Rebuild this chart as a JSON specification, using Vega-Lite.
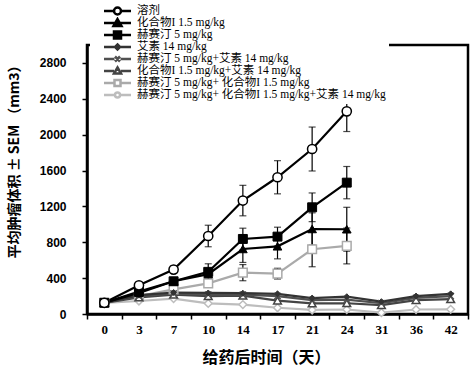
{
  "$schema": "https://vega.github.io/schema/vega-lite/v6.json",
  "width": 381,
  "height": 269,
  "autosize": {"type": "none"},
  "padding": {"left": 87, "top": 45, "right": 6, "bottom": 62},
  "background": "white",
  "datasets": {
    "tumor": [
      {"d": 0, "s": "赫赛汀 5 mg/kg+ 化合物I 1.5 mg/kg+艾素 14 mg/kg", "v": 125},
      {"d": 3, "s": "赫赛汀 5 mg/kg+ 化合物I 1.5 mg/kg+艾素 14 mg/kg", "v": 145},
      {"d": 7, "s": "赫赛汀 5 mg/kg+ 化合物I 1.5 mg/kg+艾素 14 mg/kg", "v": 172},
      {"d": 10, "s": "赫赛汀 5 mg/kg+ 化合物I 1.5 mg/kg+艾素 14 mg/kg", "v": 118},
      {"d": 14, "s": "赫赛汀 5 mg/kg+ 化合物I 1.5 mg/kg+艾素 14 mg/kg", "v": 105},
      {"d": 17, "s": "赫赛汀 5 mg/kg+ 化合物I 1.5 mg/kg+艾素 14 mg/kg", "v": 70},
      {"d": 21, "s": "赫赛汀 5 mg/kg+ 化合物I 1.5 mg/kg+艾素 14 mg/kg", "v": 45},
      {"d": 24, "s": "赫赛汀 5 mg/kg+ 化合物I 1.5 mg/kg+艾素 14 mg/kg", "v": 50},
      {"d": 31, "s": "赫赛汀 5 mg/kg+ 化合物I 1.5 mg/kg+艾素 14 mg/kg", "v": 15},
      {"d": 36, "s": "赫赛汀 5 mg/kg+ 化合物I 1.5 mg/kg+艾素 14 mg/kg", "v": 50},
      {"d": 42, "s": "赫赛汀 5 mg/kg+ 化合物I 1.5 mg/kg+艾素 14 mg/kg", "v": 52},

      {"d": 0, "s": "赫赛汀 5 mg/kg+ 化合物I 1.5 mg/kg", "v": 125, "e": 10},
      {"d": 3, "s": "赫赛汀 5 mg/kg+ 化合物I 1.5 mg/kg", "v": 200, "e": 15},
      {"d": 7, "s": "赫赛汀 5 mg/kg+ 化合物I 1.5 mg/kg", "v": 275, "e": 25},
      {"d": 10, "s": "赫赛汀 5 mg/kg+ 化合物I 1.5 mg/kg", "v": 342, "e": 40},
      {"d": 14, "s": "赫赛汀 5 mg/kg+ 化合物I 1.5 mg/kg", "v": 461, "e": 90},
      {"d": 17, "s": "赫赛汀 5 mg/kg+ 化合物I 1.5 mg/kg", "v": 450, "e": 60},
      {"d": 21, "s": "赫赛汀 5 mg/kg+ 化合物I 1.5 mg/kg", "v": 722, "e": 195},
      {"d": 24, "s": "赫赛汀 5 mg/kg+ 化合物I 1.5 mg/kg", "v": 759, "e": 200},

      {"d": 0, "s": "化合物I 1.5 mg/kg+艾素 14 mg/kg", "v": 125},
      {"d": 3, "s": "化合物I 1.5 mg/kg+艾素 14 mg/kg", "v": 185},
      {"d": 7, "s": "化合物I 1.5 mg/kg+艾素 14 mg/kg", "v": 215},
      {"d": 10, "s": "化合物I 1.5 mg/kg+艾素 14 mg/kg", "v": 200},
      {"d": 14, "s": "化合物I 1.5 mg/kg+艾素 14 mg/kg", "v": 205},
      {"d": 17, "s": "化合物I 1.5 mg/kg+艾素 14 mg/kg", "v": 150},
      {"d": 21, "s": "化合物I 1.5 mg/kg+艾素 14 mg/kg", "v": 118},
      {"d": 24, "s": "化合物I 1.5 mg/kg+艾素 14 mg/kg", "v": 120},
      {"d": 31, "s": "化合物I 1.5 mg/kg+艾素 14 mg/kg", "v": 100},
      {"d": 36, "s": "化合物I 1.5 mg/kg+艾素 14 mg/kg", "v": 155},
      {"d": 42, "s": "化合物I 1.5 mg/kg+艾素 14 mg/kg", "v": 165},

      {"d": 0, "s": "赫赛汀 5 mg/kg+艾素 14 mg/kg", "v": 125},
      {"d": 3, "s": "赫赛汀 5 mg/kg+艾素 14 mg/kg", "v": 200},
      {"d": 7, "s": "赫赛汀 5 mg/kg+艾素 14 mg/kg", "v": 228},
      {"d": 10, "s": "赫赛汀 5 mg/kg+艾素 14 mg/kg", "v": 215},
      {"d": 14, "s": "赫赛汀 5 mg/kg+艾素 14 mg/kg", "v": 215},
      {"d": 17, "s": "赫赛汀 5 mg/kg+艾素 14 mg/kg", "v": 200},
      {"d": 21, "s": "赫赛汀 5 mg/kg+艾素 14 mg/kg", "v": 155},
      {"d": 24, "s": "赫赛汀 5 mg/kg+艾素 14 mg/kg", "v": 160},
      {"d": 31, "s": "赫赛汀 5 mg/kg+艾素 14 mg/kg", "v": 120},
      {"d": 36, "s": "赫赛汀 5 mg/kg+艾素 14 mg/kg", "v": 180},
      {"d": 42, "s": "赫赛汀 5 mg/kg+艾素 14 mg/kg", "v": 200},

      {"d": 0, "s": "艾素 14 mg/kg", "v": 125},
      {"d": 3, "s": "艾素 14 mg/kg", "v": 210},
      {"d": 7, "s": "艾素 14 mg/kg", "v": 240},
      {"d": 10, "s": "艾素 14 mg/kg", "v": 235},
      {"d": 14, "s": "艾素 14 mg/kg", "v": 232},
      {"d": 17, "s": "艾素 14 mg/kg", "v": 225},
      {"d": 21, "s": "艾素 14 mg/kg", "v": 178},
      {"d": 24, "s": "艾素 14 mg/kg", "v": 193},
      {"d": 31, "s": "艾素 14 mg/kg", "v": 138},
      {"d": 36, "s": "艾素 14 mg/kg", "v": 200},
      {"d": 42, "s": "艾素 14 mg/kg", "v": 225},

      {"d": 0, "s": "赫赛汀 5 mg/kg", "v": 125, "e": 10},
      {"d": 3, "s": "赫赛汀 5 mg/kg", "v": 250, "e": 20},
      {"d": 7, "s": "赫赛汀 5 mg/kg", "v": 365, "e": 30},
      {"d": 10, "s": "赫赛汀 5 mg/kg", "v": 470, "e": 90},
      {"d": 14, "s": "赫赛汀 5 mg/kg", "v": 837, "e": 120},
      {"d": 17, "s": "赫赛汀 5 mg/kg", "v": 863, "e": 105},
      {"d": 21, "s": "赫赛汀 5 mg/kg", "v": 1190, "e": 160},
      {"d": 24, "s": "赫赛汀 5 mg/kg", "v": 1465, "e": 180},

      {"d": 0, "s": "化合物I 1.5 mg/kg", "v": 125, "e": 10},
      {"d": 3, "s": "化合物I 1.5 mg/kg", "v": 235, "e": 20},
      {"d": 7, "s": "化合物I 1.5 mg/kg", "v": 365, "e": 30},
      {"d": 10, "s": "化合物I 1.5 mg/kg", "v": 445, "e": 40},
      {"d": 14, "s": "化合物I 1.5 mg/kg", "v": 725, "e": 150},
      {"d": 17, "s": "化合物I 1.5 mg/kg", "v": 755, "e": 140},
      {"d": 21, "s": "化合物I 1.5 mg/kg", "v": 948, "e": 180},
      {"d": 24, "s": "化合物I 1.5 mg/kg", "v": 945, "e": 245},

      {"d": 0, "s": "溶剂", "v": 125, "e": 15},
      {"d": 3, "s": "溶剂", "v": 320, "e": 30},
      {"d": 7, "s": "溶剂", "v": 495, "e": 40},
      {"d": 10, "s": "溶剂", "v": 870, "e": 120},
      {"d": 14, "s": "溶剂", "v": 1265, "e": 170},
      {"d": 17, "s": "溶剂", "v": 1525, "e": 185},
      {"d": 21, "s": "溶剂", "v": 1840, "e": 245},
      {"d": 24, "s": "溶剂", "v": 2260, "e": 225}
    ]
  },
  "data": {"name": "tumor"},
  "encoding": {
    "x": {
      "field": "d",
      "type": "ordinal",
      "scale": {"type": "band", "paddingInner": 0, "paddingOuter": 0},
      "axis": {
        "title": "给药后时间（天）",
        "labelAngle": 0,
        "tickBand": "extent",
        "labelFont": "Liberation Serif",
        "labelFontWeight": "bold",
        "labelFontSize": 13,
        "labelColor": "black",
        "labelPadding": 4,
        "tickSize": 5,
        "tickWidth": 1.5,
        "tickColor": "black",
        "domainColor": "black",
        "domainWidth": 2.5,
        "grid": false,
        "titleFont": "Noto Sans CJK SC",
        "titleFontWeight": "bold",
        "titleFontSize": 16,
        "titleColor": "black",
        "titleX": 179,
        "titleY": 43,
        "titleBaseline": "middle"
      }
    },
    "y": {
      "field": "v",
      "type": "quantitative",
      "scale": {"domain": [0, 3000], "nice": false},
      "axis": {
        "title": "平均肿瘤体积 ± SEM （mm3）",
        "values": [0, 400, 800, 1200, 1600, 2000, 2400, 2800],
        "format": "d",
        "labelFont": "Liberation Sans",
        "labelFontWeight": "bold",
        "labelFontSize": 12,
        "labelColor": "black",
        "labelPadding": 16,
        "tickSize": 5,
        "tickWidth": 1.5,
        "tickColor": "black",
        "domainColor": "black",
        "domainWidth": 2.5,
        "grid": false,
        "titleFont": "Noto Sans CJK SC",
        "titleFontWeight": "bold",
        "titleFontSize": 14,
        "titleColor": "black",
        "titleX": -73,
        "titleY": 113,
        "titleBaseline": "middle",
        "titleAngle": -90
      }
    }
  },
  "layer": [
    {
      "mark": {"type": "line", "strokeWidth": 2.2},
      "encoding": {
        "stroke": {
          "field": "s",
          "type": "nominal",
          "scale": {
            "domain": ["溶剂", "化合物I 1.5 mg/kg", "赫赛汀 5 mg/kg", "艾素 14 mg/kg", "赫赛汀 5 mg/kg+艾素 14 mg/kg", "化合物I 1.5 mg/kg+艾素 14 mg/kg", "赫赛汀 5 mg/kg+ 化合物I 1.5 mg/kg", "赫赛汀 5 mg/kg+ 化合物I 1.5 mg/kg+艾素 14 mg/kg"],
            "range": ["#000000", "#000000", "#000000", "#333333", "#505050", "#444444", "#aaaaaa", "#bdbdbd"]
          },
          "legend": {
            "orient": "none",
            "legendX": 3,
            "legendY": -43,
            "title": null,
            "fillColor": "white",
            "padding": 3,
            "rowPadding": 0,
            "clipHeight": 12,
            "symbolOffset": 18,
            "symbolSize": 100,
            "symbolStrokeWidth": 2.5,
            "symbolOpacity": 1,
            "labelFont": "Liberation Serif, Noto Sans CJK SC",
            "labelFontSize": 11.5,
            "labelColor": "black",
            "labelOffset": 13,
            "labelLimit": 400,
            "encode": {
              "symbols": {
                "update": {
                  "shape": {"signal": "['M-2.7,0H-0.7M0.7,0H2.7M0.7,0A0.7,0.7,0,1,1,-0.7,0A0.7,0.7,0,1,1,0.7,0Z','M-2.7,0H2.7M0,-0.8L0.8,0.6L-0.8,0.6Z','M-2.7,0H2.7M-0.7,-0.7H0.7V0.7H-0.7Z','M-2.7,0H2.7M0,-0.5L0.5,0L0,0.5L-0.5,0Z','M-2.7,0H-0.6M0.6,0H2.7M-0.5,-0.5L0.5,0.5M-0.5,0.5L0.5,-0.5','M-2.7,0H-0.7M0.7,0H2.7M0,-0.7L0.7,0.5L-0.7,0.5Z','M-2.7,0H-0.7M0.7,0H2.7M-0.6,-0.6H0.6V0.6H-0.6Z','M-2.7,0H-0.6M0.6,0H2.7M0.5,0A0.5,0.5,0,1,1,-0.5,0A0.5,0.5,0,1,1,0.5,0Z'][datum.index]"},
                  "fill": {"signal": "['white','black','black','#333333','white','white','white','white'][datum.index]"},
                  "strokeWidth": {"value": 2.5},
                  "opacity": {"value": 1}
                }
              }
            }
          }
        }
      }
    },
    {
      "transform": [{"filter": "datum.e > 0"}],
      "mark": {
        "type": "errorbar",
        "ticks": {"size": 7, "thickness": 1.2, "color": "black"},
        "rule": {"color": "black", "strokeWidth": 1.2}
      },
      "encoding": {
        "y": {"field": "v", "type": "quantitative"},
        "yError": {"field": "e"}
      }
    },
    {
      "transform": [{"filter": {"field": "s", "equal": "赫赛汀 5 mg/kg+ 化合物I 1.5 mg/kg+艾素 14 mg/kg"}}],
      "mark": {"type": "point", "shape": "diamond", "filled": true, "fill": "white", "stroke": "#bdbdbd", "strokeWidth": 1.5, "size": 60, "opacity": 1}
    },
    {
      "transform": [{"filter": {"field": "s", "equal": "赫赛汀 5 mg/kg+ 化合物I 1.5 mg/kg"}}],
      "mark": {"type": "point", "shape": "square", "filled": true, "fill": "white", "stroke": "#aaaaaa", "strokeWidth": 1.5, "size": 75, "opacity": 1}
    },
    {
      "transform": [{"filter": {"field": "s", "equal": "化合物I 1.5 mg/kg+艾素 14 mg/kg"}}],
      "mark": {"type": "point", "shape": "triangle-up", "filled": true, "fill": "white", "stroke": "#444444", "strokeWidth": 1.5, "size": 60, "opacity": 1}
    },
    {
      "transform": [{"filter": {"field": "s", "equal": "赫赛汀 5 mg/kg+艾素 14 mg/kg"}}],
      "mark": {"type": "point", "shape": "M-1,-1L1,1M-1,1L1,-1", "filled": false, "stroke": "#505050", "strokeWidth": 1.5, "size": 40, "opacity": 1}
    },
    {
      "transform": [{"filter": {"field": "s", "equal": "艾素 14 mg/kg"}}],
      "mark": {"type": "point", "shape": "diamond", "filled": true, "fill": "#333333", "stroke": "#333333", "strokeWidth": 1, "size": 35, "opacity": 1}
    },
    {
      "transform": [{"filter": {"field": "s", "equal": "赫赛汀 5 mg/kg"}}],
      "mark": {"type": "point", "shape": "square", "filled": true, "fill": "black", "stroke": "black", "strokeWidth": 1, "size": 80, "opacity": 1}
    },
    {
      "transform": [{"filter": {"field": "s", "equal": "化合物I 1.5 mg/kg"}}],
      "mark": {"type": "point", "shape": "triangle-up", "filled": true, "fill": "black", "stroke": "black", "strokeWidth": 1, "size": 75, "opacity": 1}
    },
    {
      "transform": [{"filter": {"field": "s", "equal": "溶剂"}}],
      "mark": {"type": "point", "shape": "circle", "filled": true, "fill": "white", "stroke": "black", "strokeWidth": 1.5, "size": 85, "opacity": 1}
    }
  ],
  "config": {
    "view": {"stroke": "black", "strokeWidth": 2.5},
    "font": "Liberation Sans"
  }
}
